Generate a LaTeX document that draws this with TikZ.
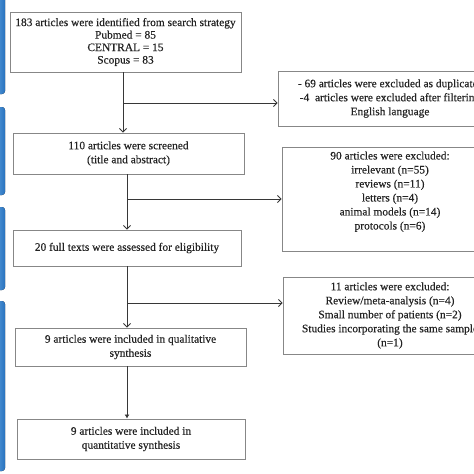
\documentclass[tikz,border=0pt]{standalone}
\usepackage{fontspec}
\setmainfont{Liberation Serif}
\newfontfamily\boxfont{Liberation Serif}[FakeBold=0.35]
\definecolor{BoxGray}{RGB}{135,135,135}
\definecolor{LineDark}{RGB}{55,55,55}
\definecolor{TextDark}{RGB}{35,35,35}
\definecolor{BarLight}{RGB}{115,175,228}
\definecolor{BarDark}{RGB}{40,115,192}
\usetikzlibrary{arrows.meta}

\begin{document}
\begin{tikzpicture}[x=1pt,y=-1pt,
  box/.style={draw=BoxGray,line width=0.9pt,align=center,inner sep=2pt,text=TextDark,
    font=\boxfont\fontsize{11.4}{14}\selectfont},
  flow/.style={draw=LineDark,line width=0.9pt,-{Straight Barb[length=3.5pt,width=7pt]}},
  bar/.style={rounded corners=3pt,left color=BarLight,right color=BarDark}]
\useasboundingbox (0,0) rectangle (474,474);
\clip (0,0) rectangle (474,474);
% stage bars at the left edge
\fill[bar] (-10,-6) rectangle (5,94);
\fill[bar] (-10,107) rectangle (5,195);
\fill[bar] (-10,207) rectangle (5,290);
\fill[bar] (-10,301) rectangle (5,471);
% main column
\node[box,minimum width=231pt,minimum height=60pt,font=\boxfont\fontsize{11.4}{12.5}\selectfont] (ident) at (125.5,42)
  {183 articles were identified from search strategy\\ Pubmed = 85\\ CENTRAL = 15\\ Scopus = 83};
\node[box,minimum width=231pt,minimum height=41pt] (screen) at (128.5,153.5)
  {110 articles were screened\\ (title and abstract)};
\node[box,minimum width=228pt,minimum height=36pt] (full) at (127,248)
  {20 full texts were assessed for eligibility};
\node[box,minimum width=231pt,minimum height=38pt] (qual) at (130.5,347)
  {9 articles were included in qualitative\\ synthesis};
\node[box,minimum width=228pt,minimum height=40pt] (quant) at (131,439)
  {9 articles were included in\\ quantitative synthesis};
% exclusions
\node[box,minimum width=224pt,minimum height=55pt] (dup) at (390,98.5)
  {- 69 articles were excluded as duplicates\\ -4~ articles were excluded after filtering\\ English language};
\node[box,minimum width=216pt,minimum height=104pt] (excl90) at (390,199)
  {90 articles were excluded:\\ irrelevant (n=55)\\ reviews (n=11)\\ letters (n=4)\\ animal models (n=14)\\ protocols (n=6)\\[3pt]};
\node[box,minimum width=214pt,minimum height=77pt] (excl11) at (390,315.5)
  {11 articles were excluded:\\ Review/meta-analysis (n=4)\\ Small number of patients (n=2)\\ Studies incorporating the same sample\\ (n=1)};
% branch points
\coordinate (b1) at (123,103);
\coordinate (b2) at (127,199);
\coordinate (b3) at (127,303);
\draw[flow] (ident.south -| b1) -- (b1 |- screen.north);
\draw[flow] (b1) -- (b1 -| dup.west);
\draw[flow] (screen.south -| b2) -- (b2 |- full.north);
\draw[flow] (b2) -- (b2 -| excl90.west);
\draw[flow] (full.south -| b3) -- (b3 |- qual.north);
\draw[flow] (b3) -- (b3 -| excl11.west);
\draw[flow,-{Latex[length=4pt,width=5pt]}] (qual.south -| b3) -- (b3 |- quant.north);
\end{tikzpicture}
\end{document}
